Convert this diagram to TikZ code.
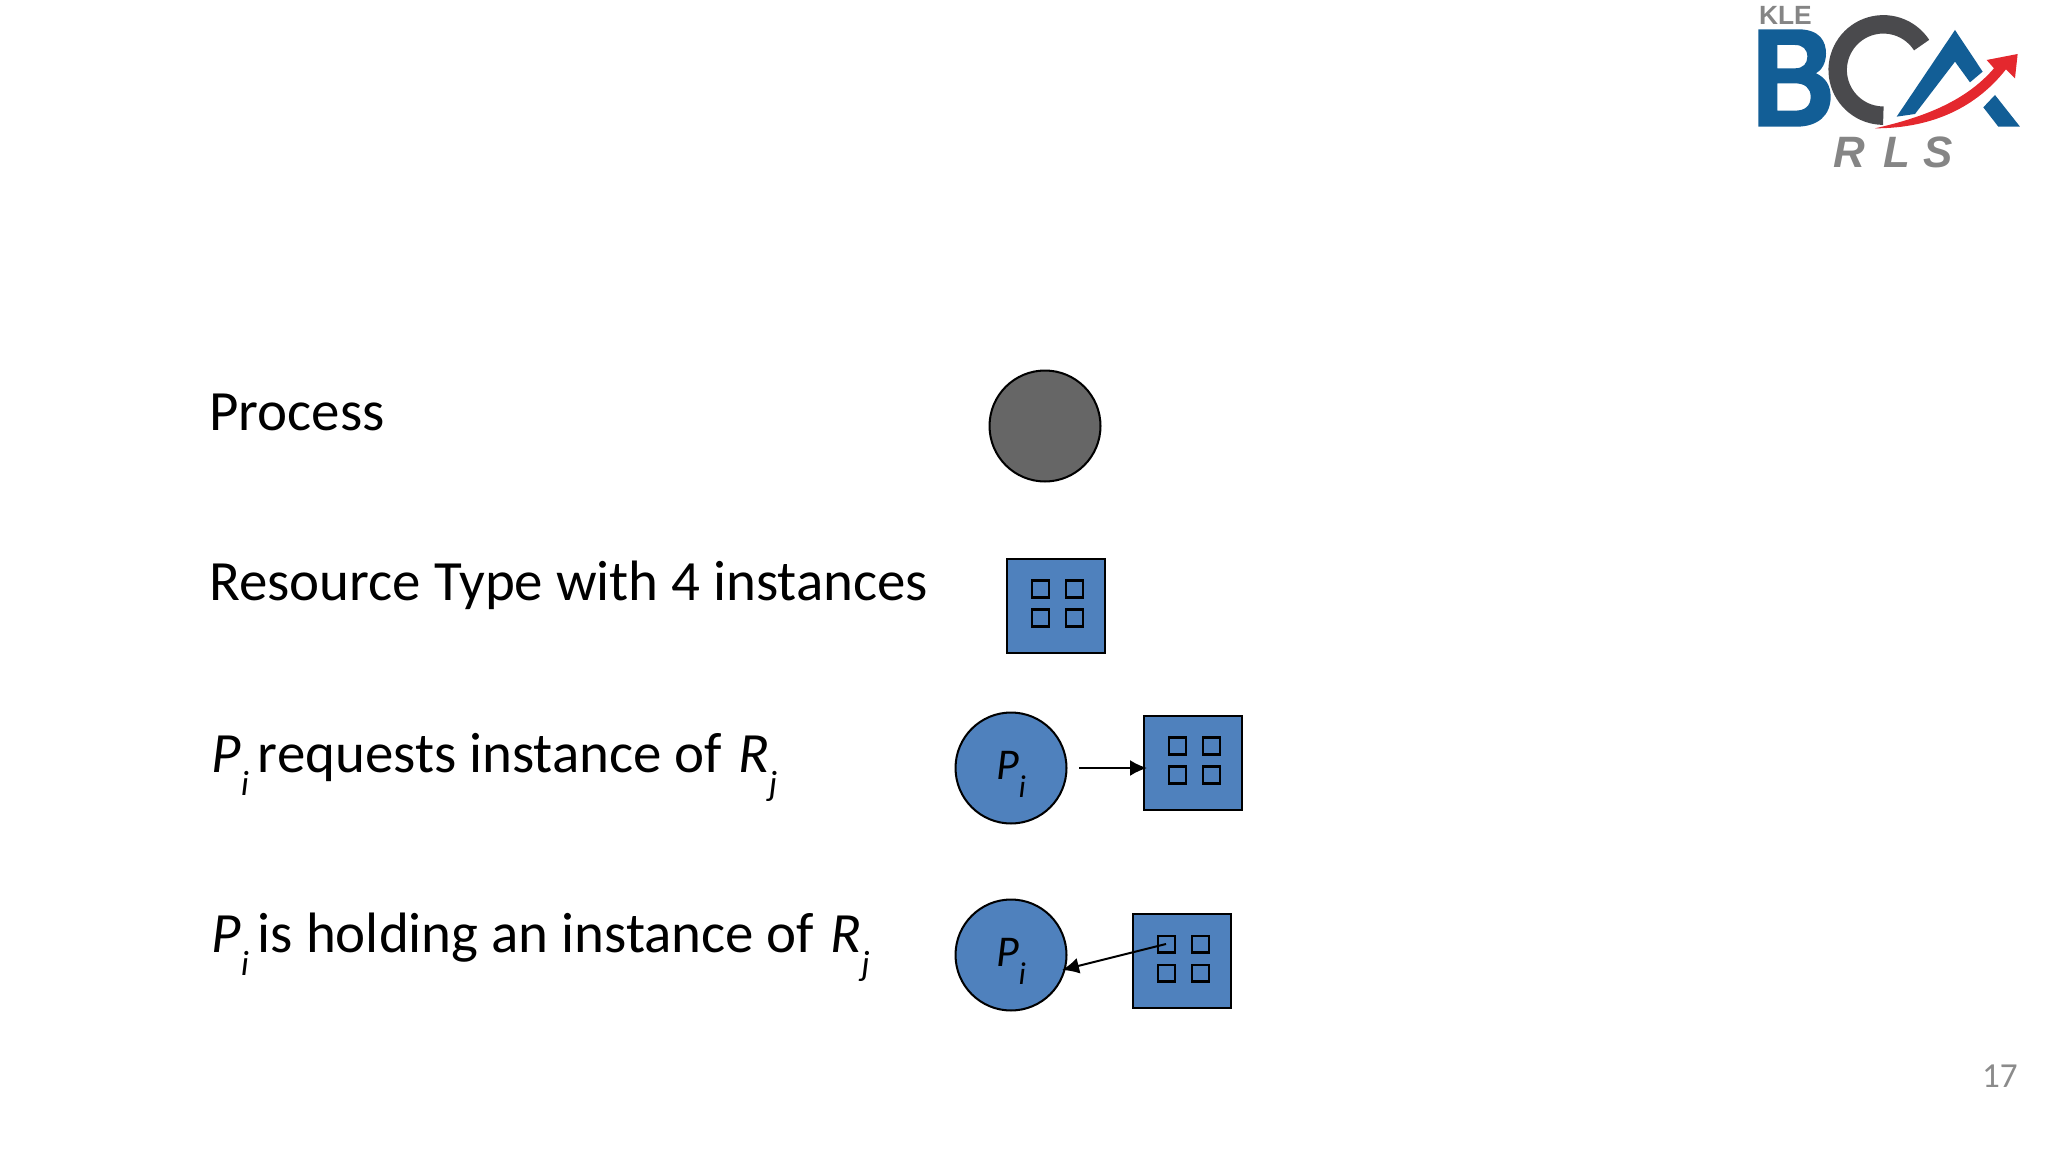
\documentclass[tikz,border=0pt]{standalone}
\usepackage{fontspec}
\setmainfont{Carlito}
\newfontfamily\logofont{Liberation Sans}
\usetikzlibrary{arrows.meta}
\definecolor{resblue}{HTML}{4F81BD}
\definecolor{procgray}{HTML}{666666}
\definecolor{logoblue}{HTML}{125E96}
\definecolor{logodark}{HTML}{4A4A4D}
\definecolor{logored}{HTML}{E4282E}
\definecolor{logogray}{HTML}{858585}
\definecolor{pagegray}{HTML}{8B8B8B}
\newcommand{\SubLabel}[2]{{\itshape #1\raisebox{-0.42em}{\fontsize{20pt}{20pt}\selectfont #2}}}
\newcommand{\SmallLabel}[2]{\raisebox{-0.22cm}[0pt][0pt]{\fontsize{25pt}{28pt}\selectfont\itshape #1\raisebox{-0.42em}{\fontsize{18pt}{18pt}\selectfont #2}}}
\tikzset{
  label text/.style={anchor=base west,inner sep=0pt,font=\fontsize{32.4pt}{38pt}\selectfont},
  process/.style={circle,draw=black,line width=1.15pt,minimum size=2.22cm,inner sep=0pt},
  bluebox/.style={rectangle,draw=black,fill=resblue,line width=1.15pt,minimum width=1.96cm,minimum height=1.88cm,inner sep=0pt},
  instance/.style={rectangle,draw=black,line width=1.15pt,minimum size=0.34cm,inner sep=0pt},
  edge line/.style={draw=black,line width=1.15pt,-{Latex[length=0.34cm,width=0.32cm]}},
}
\newcommand{\ResBox}[3]{%
  \node[bluebox] (#1) at (#2,#3) {};
  \node[instance] (#1a) at (#2-16,#3-17) {};
  \node[instance] (#1b) at (#2+18,#3-17) {};
  \node[instance] (#1c) at (#2-16,#3+12) {};
  \node[instance] (#1d) at (#2+18,#3+12) {};
}
\begin{document}
\begin{tikzpicture}[x=0.02cm,y=-0.02cm]
\useasboundingbox (0,0) rectangle (2048,1152);
% labels
\node[label text] (t1) at (209,430) {Process};
\node[label text] (t2) at (209,600) {Resource Type with 4 instances};
\node[label text] (t3) at (211,772) {\SubLabel{P}{i}\hspace{0.16em}requests instance of\hspace{0.28em}\SubLabel{R}{j}};
\node[label text] (t4) at (211,952) {\SubLabel{P}{i}\hspace{0.16em}is holding an instance of\hspace{0.28em}\SubLabel{R}{j}};
% process
\node[process,fill=procgray] (proc) at (1045,426) {};
% resource
\ResBox{res}{1056}{606}
% request row
\node[process,fill=resblue] (p3) at (1011,768) {\SmallLabel{P}{i}};
\ResBox{req}{1193}{763}
\coordinate (req start) at (1079,768);
\coordinate (req end) at (1147,768);
\draw[edge line] (req start) -- (req end);
% hold row
\node[process,fill=resblue] (p4) at (1011,955) {\SmallLabel{P}{i}};
\ResBox{hold}{1182}{961}
\coordinate (hold end) at (1062,970);
\draw[edge line] (holda.center) -- (hold end);
% page number
\node[anchor=base east,inner sep=0pt,text=pagegray,font=\fontsize{20pt}{24pt}\selectfont] (page) at (2018,1087) {17};
% logo
\begin{scope}[shift={(1720,0)},xscale=0.3333,yscale=0.3333]
  \draw[logodark,line width=10.5pt,line cap=butt] plot[smooth,samples=50,domain=-270:-33] ({490+137*cos(\x)},{210+137*sin(\x)});
  \fill[logoblue,even odd rule] (115,88) -- (235,88) .. controls (300,88) and (318,125) .. (318,160)
     .. controls (318,190) and (305,210) .. (288,220) .. controls (315,232) and (332,255) .. (332,290)
     .. controls (332,345) and (295,380) .. (230,380) -- (115,380) -- cycle
     (172,135) -- (172,205) -- (225,205) .. controls (250,205) and (262,190) .. (262,170) .. controls (262,148) and (248,135) .. (225,135) -- cycle
     (172,250) -- (172,332) -- (225,332) .. controls (255,332) and (272,318) .. (272,290) .. controls (272,265) and (255,250) .. (225,250) -- cycle;
  \fill[logoblue] (530,350) -- (705,90) -- (788,215) -- (750,247) -- (705,185) -- (585,342) -- cycle;
  \fill[logoblue] (825,285) -- (900,380) -- (835,380) -- (790,322) -- cycle;
  \fill[logored] (465,385) .. controls (620,350) and (740,300) .. (822,205) -- (800,180) -- (893,162) -- (885,235) -- (858,208)
     .. controls (770,320) and (640,385) .. (465,385) -- cycle;
  \node[anchor=base west,inner sep=0pt,text=logogray,font=\logofont\bfseries\fontsize{15pt}{15pt}\selectfont] (kle) at (116,75) {KLE};
  \node[anchor=base west,inner sep=0pt,text=logogray,font=\logofont\bfseries\itshape\fontsize{25pt}{25pt}\selectfont] (rls) at (338,503) {R\hspace{0.42em}L\hspace{0.3em}S};
\end{scope}
\end{tikzpicture}
\end{document}
